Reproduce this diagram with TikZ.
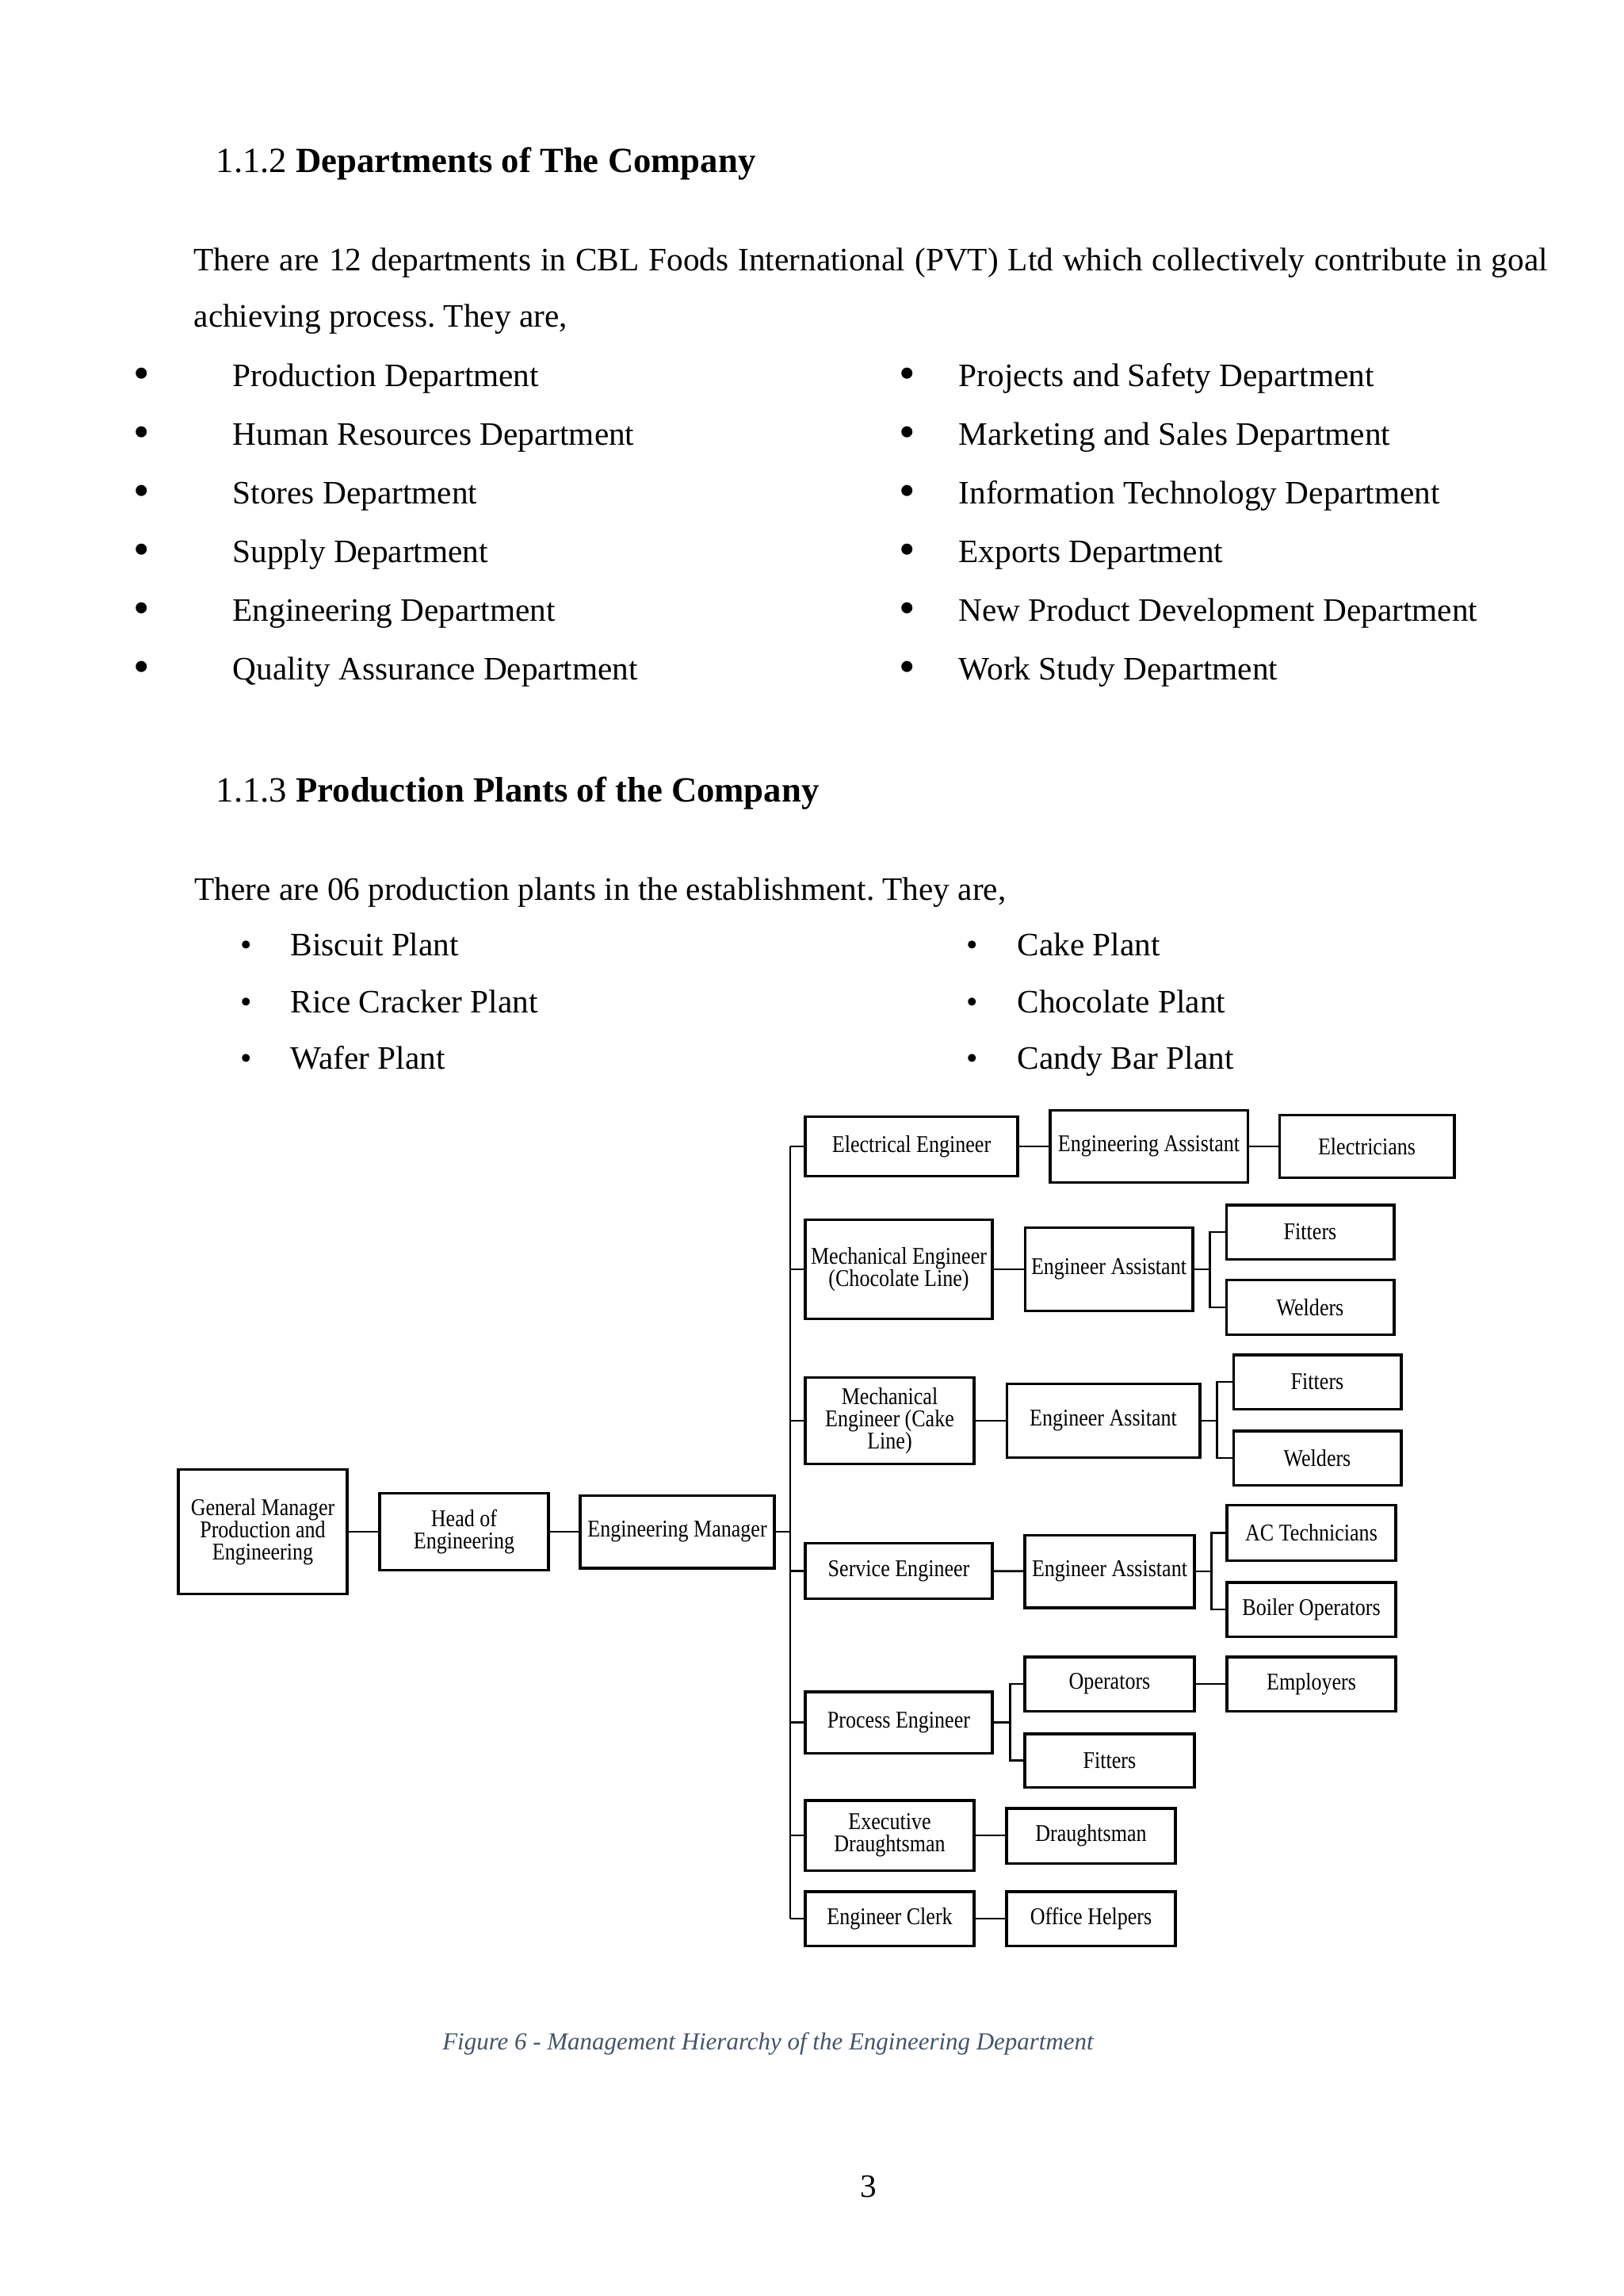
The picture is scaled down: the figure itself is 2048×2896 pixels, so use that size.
\documentclass[tikz,border=0pt]{standalone}
\usepackage{fontspec}
\setmainfont{Liberation Serif}
\newfontfamily\boxfont[FakeStretch=0.86]{Liberation Serif}
\usetikzlibrary{positioning}
\definecolor{capgray}{RGB}{68,84,106}
\frenchspacing

\tikzset{
  box/.style={draw, line width=0.9pt, align=center, inner sep=1pt,
    font=\boxfont\fontsize{8.8}{8.2}\selectfont},
  link/.style={line width=0.8pt},
  txt/.style={anchor=base west, inner sep=0pt, font=\fontsize{12}{14}\selectfont},
  head/.style={anchor=base west, inner sep=0pt, font=\fontsize{13}{15}\selectfont},
  dot/.style={anchor=base, inner sep=0pt, font=\fontsize{12}{14}\selectfont}
}

\begin{document}
\begin{tikzpicture}[x=0.29066pt, y=-0.29066pt]
\useasboundingbox[fill=white] (0,0) rectangle (2048,2896);

% section 1.1.2
\node[head] (sec2) at (272,217) {1.1.2 \textbf{Departments of The Company}};
\node[txt] (intro1) at (244,341) {\makebox[496.5pt][s]{There are 12 departments in CBL Foods International (PVT) Ltd which collectively contribute in goal}};
\node[txt] (intro2) at (244,412) {achieving process. They are,};

\foreach \y/\l/\r [count=\i] in {
    487/Production Department/Projects and Safety Department,
    561/Human Resources Department/Marketing and Sales Department,
    635/Stores Department/Information Technology Department,
    709/Supply Department/Exports Department,
    783/Engineering Department/New Product Development Department,
    857/Quality Assurance Department/Work Study Department}{
  \node[dot, font=\fontsize{17}{18}\selectfont] (dl\i) at (179,\y+3) {\textbullet};
  \node[txt] (dept\i) at (293,\y) {\l};
  \node[dot, font=\fontsize{17}{18}\selectfont] (dr\i) at (1145,\y+3) {\textbullet};
  \node[txt] (deptr\i) at (1209,\y) {\r};
}

% section 1.1.3
\node[head] (sec3) at (272,1011) {1.1.3 \textbf{Production Plants of the Company}};
\node[txt] (plants) at (245,1135) {There are 06 production plants in the establishment. They are,};

\foreach \y/\l/\r [count=\i] in {
    1205/Biscuit Plant/Cake Plant,
    1277/Rice Cracker Plant/Chocolate Plant,
    1348/Wafer Plant/Candy Bar Plant}{
  \node[dot] (pl\i) at (311,\y) {\textbullet};
  \node[txt] (plant\i) at (366,\y) {\l};
  \node[dot] (pr\i) at (1227,\y) {\textbullet};
  \node[txt] (plantr\i) at (1283,\y) {\r};
}

% hierarchy
\node[box, minimum width=61.9pt, minimum height=45.6pt] (gm) at (331.5,1932) {General Manager\\Production and\\Engineering};
\node[box, minimum width=61.9pt, minimum height=28.2pt] (hoe) at (585.5,1932) {Head of\\Engineering};
\node[box, minimum width=71.2pt, minimum height=26.7pt] (em) at (854.5,1932) {Engineering Manager};

\node[box, minimum width=77.9pt, minimum height=21.8pt] (elec) at (1150,1446) {Electrical Engineer};
\node[box, minimum width=72.4pt, minimum height=26.7pt] (elecas) at (1449.5,1446) {Engineering Assistant};
\node[box, minimum width=64.2pt, minimum height=23pt] (elecs) at (1724.5,1446) {Electricians};

\node[box, minimum width=68.6pt, minimum height=36.3pt] (mchoc) at (1134,1601) {Mechanical Engineer\\(Chocolate Line)};
\node[box, minimum width=61.6pt, minimum height=30.5pt] (mchocas) at (1399,1601) {Engineer Assistant};
\node[box, minimum width=61.6pt, minimum height=19.8pt] (fitA) at (1653,1554) {Fitters};
\node[box, minimum width=61.6pt, minimum height=20.1pt] (weldA) at (1653,1649) {Welders};

\node[box, minimum width=61.9pt, minimum height=31.7pt] (mcake) at (1122.5,1792) {Mechanical\\Engineer (Cake\\Line)};
\node[box, minimum width=70.9pt, minimum height=27pt] (mcakeas) at (1392,1792) {Engineer Assitant};
\node[box, minimum width=61.6pt, minimum height=19.8pt] (fitB) at (1662,1743) {Fitters};
\node[box, minimum width=61.6pt, minimum height=19.8pt] (weldB) at (1662,1839) {Welders};

\node[box, minimum width=68.6pt, minimum height=20.1pt] (serv) at (1134,1981.5) {Service Engineer};
\node[box, minimum width=62.2pt, minimum height=26.7pt] (servas) at (1400,1982) {Engineer Assistant};
\node[box, minimum width=61.9pt, minimum height=20.1pt] (actech) at (1654.5,1933.5) {AC Technicians};
\node[box, minimum width=61.9pt, minimum height=19.8pt] (boiler) at (1654.5,2030) {Boiler Operators};

\node[box, minimum width=68.6pt, minimum height=22.4pt] (proc) at (1134,2172.5) {Process Engineer};
\node[box, minimum width=62.2pt, minimum height=19.8pt] (oper) at (1400,2124) {Operators};
\node[box, minimum width=62.2pt, minimum height=19.5pt] (fitC) at (1400,2220.5) {Fitters};
\node[box, minimum width=61.9pt, minimum height=19.8pt] (empl) at (1654.5,2124) {Employers};

\node[box, minimum width=61.9pt, minimum height=25.6pt] (exdr) at (1122.5,2315) {Executive\\Draughtsman};
\node[box, minimum width=61.9pt, minimum height=20.1pt] (drau) at (1376.5,2315.5) {Draughtsman};
\node[box, minimum width=61.9pt, minimum height=19.8pt] (clerk) at (1122.5,2420) {Engineer Clerk};
\node[box, minimum width=61.9pt, minimum height=19.8pt] (office) at (1376.5,2420) {Office Helpers};

% connectors
\coordinate (busT) at (997,1446);
\coordinate (busB) at (997,2420);
\draw[link] (busT) -- (busB);
\draw[link] (gm) -- (hoe);
\draw[link] (hoe) -- (em);
\draw[link] (em.east) -- (em.east -| busT);
\foreach \n in {elec,mchoc,mcake,serv,proc,exdr,clerk}
  \draw[link] (\n.west) -- (\n.west -| busT);

\draw[link] (elec) -- (elecas);
\draw[link] (elecas) -- (elecs);
\draw[link] (mchoc) -- (mchocas);
\draw[link] (mcake) -- (mcakeas);
\draw[link] (serv) -- (servas);
\draw[link] (oper) -- (empl);
\draw[link] (exdr.east) -- (exdr.east -| drau.west);
\draw[link] (clerk) -- (office);

\draw[link] (mchocas.east) -- ++(20,0) coordinate (brA) |- (fitA.west);
\draw[link] (brA) |- (weldA.west);
\draw[link] (mcakeas.east) -- ++(20,0) coordinate (brB) |- (fitB.west);
\draw[link] (brB) |- (weldB.west);
\draw[link] (servas.east) -- ++(20,0) coordinate (brC) |- (actech.west);
\draw[link] (brC) |- (boiler.west);
\draw[link] (proc.east) -- ++(21,0) coordinate (brD) |- (oper.west);
\draw[link] (brD) |- (fitC.west);

% caption and page number
\node[anchor=base, inner sep=0pt, text=capgray, font=\fontsize{9}{11}\selectfont\itshape] (cap) at (969,2585) {Figure 6 - Management Hierarchy of the Engineering Department};
\node[anchor=base, inner sep=0pt, font=\fontsize{12}{14}\selectfont] (pageno) at (1096,2771) {3};
\end{tikzpicture}
\end{document}
